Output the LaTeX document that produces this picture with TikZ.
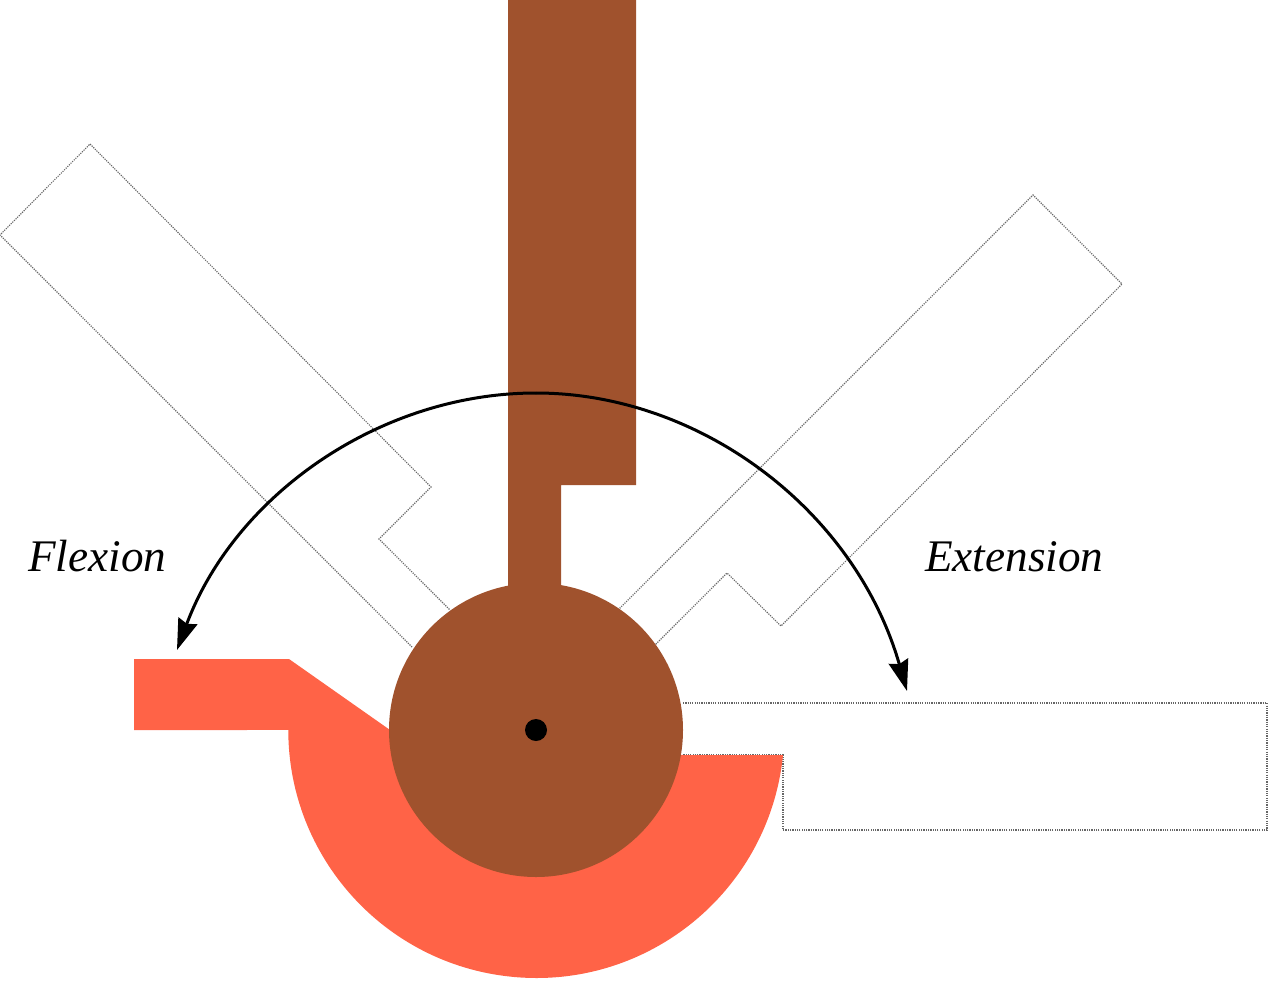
\documentclass[tikz,border=0pt]{standalone}
\usepackage{fontspec}
\setmainfont{Liberation Serif}
\usetikzlibrary{arrows.meta}
\definecolor{bone}{HTML}{A0522D}
\definecolor{joint}{HTML}{FF6347}
\tikzset{
  ghost/.style={draw=black!60,line width=1.1pt,dash pattern=on 1.2pt off 1.1pt},
  motion/.style={line width=3pt,-{Stealth[length=31pt,width=20pt,inset=3pt]}},
  lbl/.style={font=\fontsize{45.2}{50}\selectfont\itshape,anchor=base west,inner sep=0pt}
}
\begin{document}
\begin{tikzpicture}[x=1pt,y=-1pt]
\useasboundingbox (0,0) rectangle (1269,980);
% ghost positions
\draw[ghost] (412,647) -- (0,235) -- (90,144) -- (431,487) -- (379,539) -- (450,610);
\draw[ghost] (618,610) -- (1033,195) -- (1122,284) -- (781,626) -- (727,573) -- (655,645);
\draw[ghost] (683,703) -- (1267,703) -- (1267,830) -- (783,830) -- (783,755) -- (683,755);
% lower part
\fill[joint] (134,659) -- (289,659) -- (400,737) -- (683,755) -- (783,755)
  arc[start angle=-5.79,end angle=-180,x radius=248,y radius=-248] -- (134,730) -- cycle;
% upper part
\fill[bone] (508,0) -- (636,0) -- (636,485) -- (561,485) -- (561,600) -- (508,600) -- cycle;
\fill[bone] (536,730) circle[radius=147];
\fill[black] (536,730) circle[radius=11];
% motion arc
\coordinate (top) at (536,393);
\coordinate (fl) at (177,650);
\coordinate (ex) at (907,691);
\draw[motion] (top) .. controls (380,393) and (235,495) .. (fl);
\draw[motion] (top) .. controls (700,393) and (855,510) .. (ex);
\node[lbl] (f) at (28,571) {Flexion};
\node[lbl] (e) at (925,571) {Extension};
\end{tikzpicture}
\end{document}
